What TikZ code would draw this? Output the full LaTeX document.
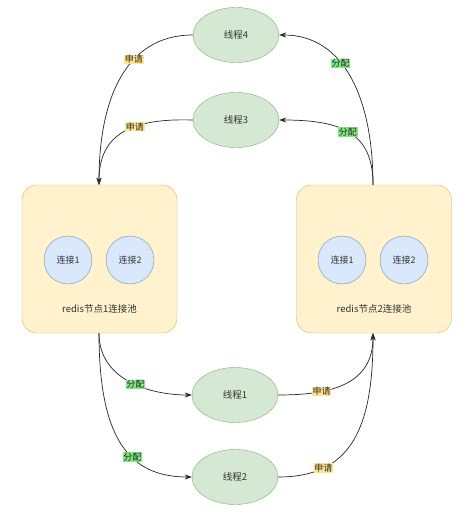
\documentclass[tikz,border=0pt]{standalone}
\usepackage{fontspec}
\setmainfont{Noto Sans CJK SC}
\usetikzlibrary{shapes.geometric,arrows.meta}
\definecolor{thfill}{HTML}{D5E8D4}
\definecolor{thdraw}{HTML}{82B366}
\definecolor{poolfill}{HTML}{FFF2CC}
\definecolor{pooldraw}{HTML}{D6B656}
\definecolor{cfill}{HTML}{DAE8FC}
\definecolor{cdraw}{HTML}{6C8EBF}
\definecolor{reqbg}{HTML}{FFE38F}
\definecolor{allocbg}{HTML}{80E880}
\definecolor{txt}{HTML}{333333}
\begin{document}
\begin{tikzpicture}[x=1pt,y=-1pt,
  thread/.style={ellipse,draw=thdraw,fill=thfill,minimum width=86pt,minimum height=55pt,inner sep=0pt,font=\fontsize{9.5}{11}\selectfont,text=txt},
  pool/.style={rectangle,rounded corners=15pt,draw=pooldraw,fill=poolfill,minimum width=155pt,minimum height=148pt,inner sep=0pt},
  conn/.style={circle,draw=cdraw,fill=cfill,minimum size=48pt,inner sep=0pt,font=\fontsize{9}{11}\selectfont,text=txt},
  plabel/.style={font=\fontsize{9.5}{11}\selectfont,text=txt},
  edge/.style={draw=black!85,line width=0.7pt,-{Stealth[length=7pt,width=5pt]}},
  req/.style={fill=reqbg,inner sep=0.6pt,font=\fontsize{9}{10}\selectfont,text=black!85},
  alloc/.style={fill=allocbg,inner sep=0.6pt,font=\fontsize{9}{10}\selectfont,text=black!85}]
\useasboundingbox (0,0) rectangle (474,516);
\fill[white] (0,0) rectangle (474,516);
% pools
\node[pool] (p1) at (99.5,259) {};
\node[pool] (p2) at (374,259) {};
\node[conn] (c11) at (68,260) {连接1};
\node[conn] (c12) at (130,260) {连接2};
\node[conn] (c21) at (342,260) {连接1};
\node[conn] (c22) at (404,260) {连接2};
\node[plabel] (l1) at (99.5,309) {redis节点1连接池};
\node[plabel] (l2) at (374,309) {redis节点2连接池};
% threads
\node[thread] (t4) at (236,35) {线程4};
\node[thread] (t3) at (236,120) {线程3};
\node[thread] (t1) at (235,395) {线程1};
\node[thread] (t2) at (235,477) {线程2};
\coordinate (p1t) at (99,185);
\coordinate (p2t) at (373,185);
\coordinate (p1b) at (99,333);
\coordinate (p2b) at (373,333);
% top left: threads request from pool1
\draw[edge] (t4.west) .. controls (125,35) and (99,100) .. (p1.north -| p1t)
  node[req,pos=0.37] {申请};
\draw[edge] (t3.west) .. controls (130,118) and (99,135) .. (p1.north -| p1t)
  node[req,pos=0.38] {申请};
% top right: pool2 allocates to threads
\draw[edge] (p2.north -| p2t) .. controls (373,100) and (345,35) .. (t4.east)
  node[alloc,pos=0.6] {分配};
\draw[edge] (p2.north -| p2t) .. controls (373,135) and (345,120) .. (t3.east)
  node[alloc,pos=0.53] {分配};
% bottom left: pool1 allocates to threads
\draw[edge] (p1.south -| p1b) .. controls (99,380) and (150,395) .. (t1.west)
  node[alloc,pos=0.55] {分配};
\draw[edge] (p1.south -| p1b) .. controls (99,440) and (130,477) .. (t2.west)
  node[alloc,pos=0.6] {分配};
% bottom right: threads request from pool2
\draw[edge] (t1.east) .. controls (330,395) and (373,385) .. (p2.south -| p2b)
  node[req,pos=0.3] {申请};
\draw[edge] (t2.east) .. controls (350,477) and (373,430) .. (p2.south -| p2b)
  node[req,pos=0.25] {申请};
\end{tikzpicture}
\end{document}
